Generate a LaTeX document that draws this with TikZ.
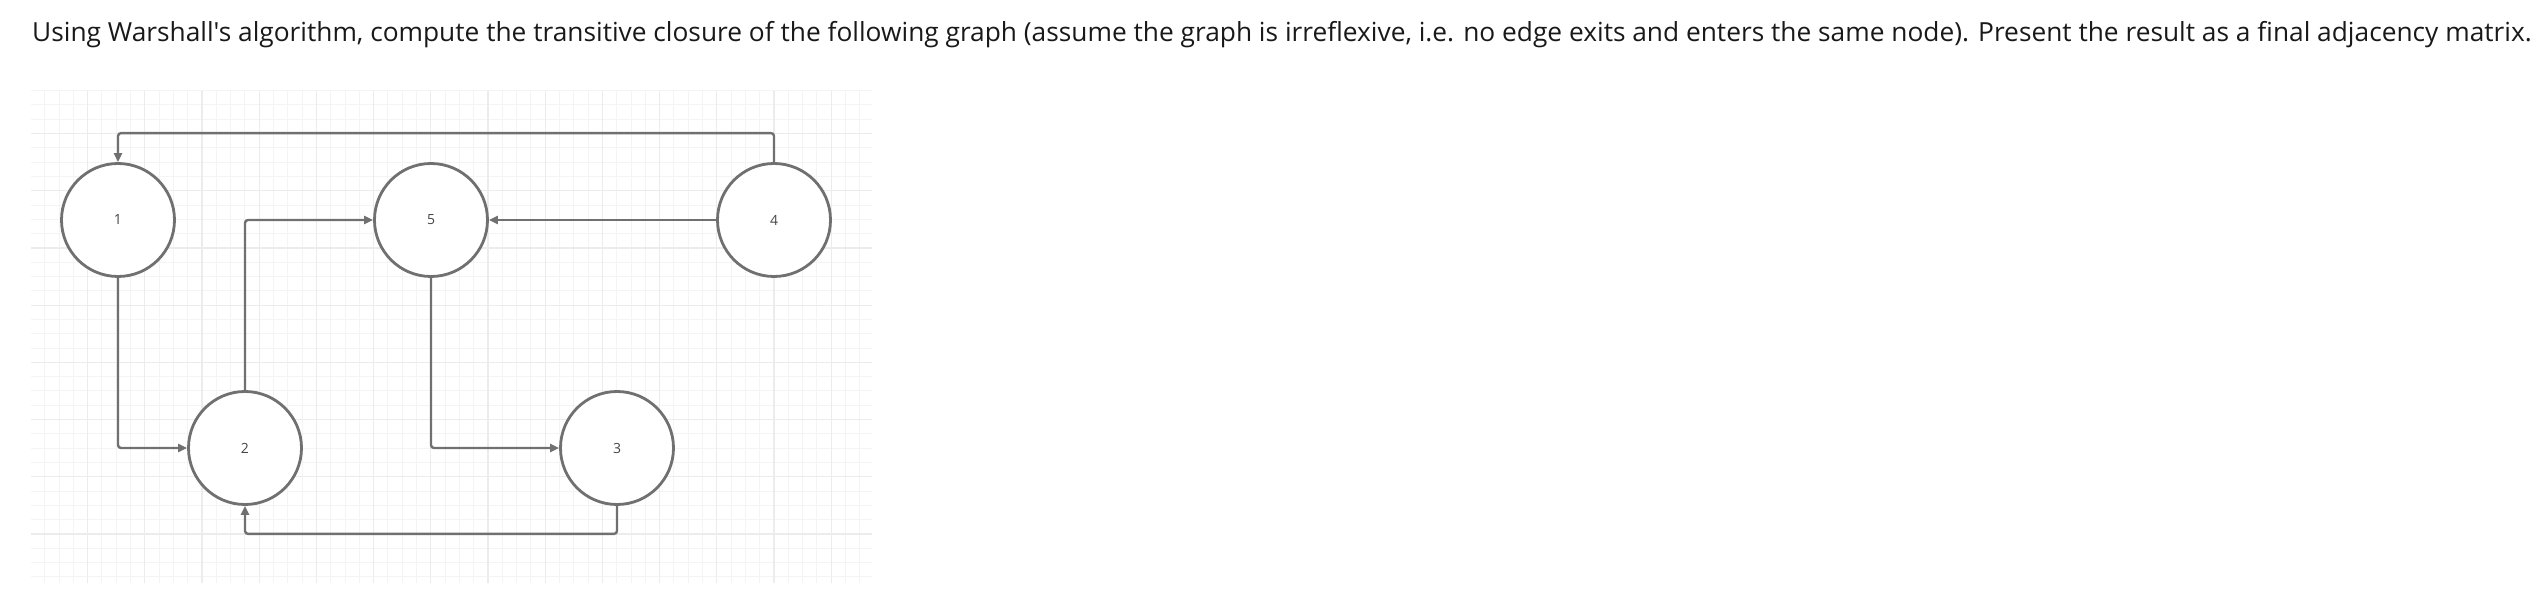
\documentclass[tikz,border=0pt]{standalone}
\usepackage{fontspec}
\setmainfont{Open Sans}[Ligatures=TeXOff]
\usetikzlibrary{arrows.meta}
\definecolor{qtext}{RGB}{25,25,25}
\definecolor{gridminor}{RGB}{244,244,244}
\definecolor{gridmajor}{RGB}{236,236,236}
\definecolor{edgegray}{RGB}{112,112,112}
\definecolor{labelgray}{RGB}{70,70,70}

\begin{document}
\begin{tikzpicture}[x=1pt, y=-1pt, >={Triangle[length=9pt,width=8pt]},
  vertex/.style={circle, draw=edgegray, line width=2.8pt, minimum size=113pt,
    inner sep=0pt, fill=white, text=labelgray, font=\fontsize{14}{14}\selectfont},
  link/.style={->, edgegray, line width=2.4pt, rounded corners=3pt}]
  \useasboundingbox (0,0) rectangle (2544,593);
  % --- question ---
  \node[anchor=base west, inner sep=0pt, text=qtext, font=\fontsize{26.3}{30}\selectfont]
    (question) at (32,42) {Using Warshall's algorithm, compute the transitive closure of the following graph (assume the graph is irreflexive, i.e. no edge exits and enters the same node). Present the result as a final adjacency matrix.};
  % --- background grid ---
  \begin{scope}
    \clip (31,91) rectangle (872,583);
    \foreach \i in {-52,...,7}
      \draw[gridminor, line width=1pt] ({774+14.3*\i},91) -- ({774+14.3*\i},583);
    \foreach \j in {-31,...,4}
      \draw[gridminor, line width=1pt] (31,{534+14.3*\j}) -- (872,{534+14.3*\j});
    \foreach \i in {-13,...,1}
      \draw[gridmajor, line width=1.2pt] ({774+57.2*\i},91) -- ({774+57.2*\i},583);
    \foreach \j in {-8,...,1}
      \draw[gridmajor, line width=1.2pt] (31,{534+57.2*\j}) -- (872,{534+57.2*\j});
  \end{scope}
  % --- vertices ---
  \node[vertex] (n1) at (118,220) {1};
  \node[vertex] (n5) at (431,220) {5};
  \node[vertex] (n4) at (774,220) {4};
  \node[vertex] (n2) at (245,448) {2};
  \node[vertex] (n3) at (617,448) {3};
  % --- edges ---
  \draw[link] (n4.north) -- ++(0,-29) -| (n1.north);
  \draw[link] (n4.west) -- (n5.east);
  \draw[link] (n2.north) |- (n5.west);
  \draw[link] (n1.south) |- (n2.west);
  \draw[link] (n5.south) |- (n3.west);
  \draw[link] (n3.south) -- ++(0,28) -| (n2.south);
\end{tikzpicture}
\end{document}
